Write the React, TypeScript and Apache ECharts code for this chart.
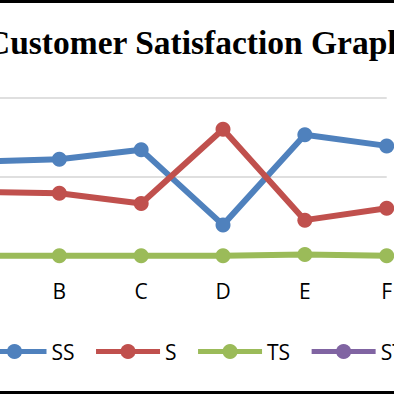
import React, { useEffect, useRef } from "react";
import * as echarts from "echarts";

const categories = ["A", "B", "C", "D", "E", "F"];
const seriesNames = ["SS", "S", "TS", "ST"];
const ssValues = [1.19, 1.22, 1.34, 0.39, 1.53, 1.39];
const sValues = [0.81, 0.79, 0.66, 1.6, 0.45, 0.6];
const tsValues = [0, 0, 0, 0, 0.015, 0];
const stValues: (number | null)[] = [null, null, null, null, null, null];
const colors = ["#4F81BD", "#C0504D", "#9BBB59", "#8064A2"];
const titleText = "Customer Satisfaction Graph";

const OFF = 40;
const W = 480;

export default function App() {
  const ref = useRef<HTMLDivElement>(null);
  useEffect(() => {
    document.body.style.margin = "0";
    document.body.style.overflow = "hidden";
    if (!ref.current) return;
    const chart = echarts.init(ref.current, undefined, { renderer: "svg" });
    const dataSets = [ssValues, sValues, tsValues, stValues];
    chart.setOption({
      animation: false,
      backgroundColor: "#ffffff",
      color: colors,
      legend: {
        data: seriesNames,
        left: OFF - 20,
        top: 341,
        width: 600,
        padding: 0,
        itemWidth: 64,
        itemHeight: 19,
        itemGap: 19,
        lineStyle: { width: 5 },
        textStyle: {
          fontFamily: "Open Sans",
          fontSize: 21,
          color: "#000000",
        },
      },
      grid: {
        left: OFF - 22.5,
        right: W - (OFF + 386.7),
        top: 97.7,
        bottom: 138.3,
        containLabel: false,
      },
      xAxis: {
        type: "category",
        data: categories,
        boundaryGap: false,
        axisLine: { show: true, lineStyle: { color: "#d4d4d4", width: 1.5 } },
        axisTick: { show: false },
        axisLabel: {
          margin: 25,
          fontFamily: "Open Sans",
          fontSize: 21,
          color: "#000000",
        },
      },
      yAxis: {
        type: "value",
        min: 0,
        max: 2,
        interval: 1,
        axisLine: { show: false },
        axisTick: { show: false },
        axisLabel: { show: false },
        splitLine: { lineStyle: { color: "#d4d4d4", width: 1.5 } },
      },
      graphic: [
        {
          type: "text",
          x: OFF + 196,
          y: 59,
          style: {
            text: titleText,
            textAlign: "center",
            textVerticalAlign: "bottom",
            font: "bold 33.5px 'Liberation Serif'",
            fill: "#000000",
          },
        },
        { type: "rect", shape: { x: 0, y: 0, width: W, height: 3 }, style: { fill: "#000" } },
        { type: "rect", shape: { x: 0, y: 391, width: W, height: 3 }, style: { fill: "#000" } },
      ],
      series: seriesNames.map((name, i) => ({
        name,
        type: "line",
        data: dataSets[i],
        symbol: "circle",
        symbolSize: 15,
        clip: false,
        lineStyle: { width: 6, color: colors[i] },
        itemStyle: { color: colors[i] },
      })),
    });
    return () => chart.dispose();
  }, []);
  return <div ref={ref} style={{ width: W, height: 394, marginLeft: -OFF }} />;
}
